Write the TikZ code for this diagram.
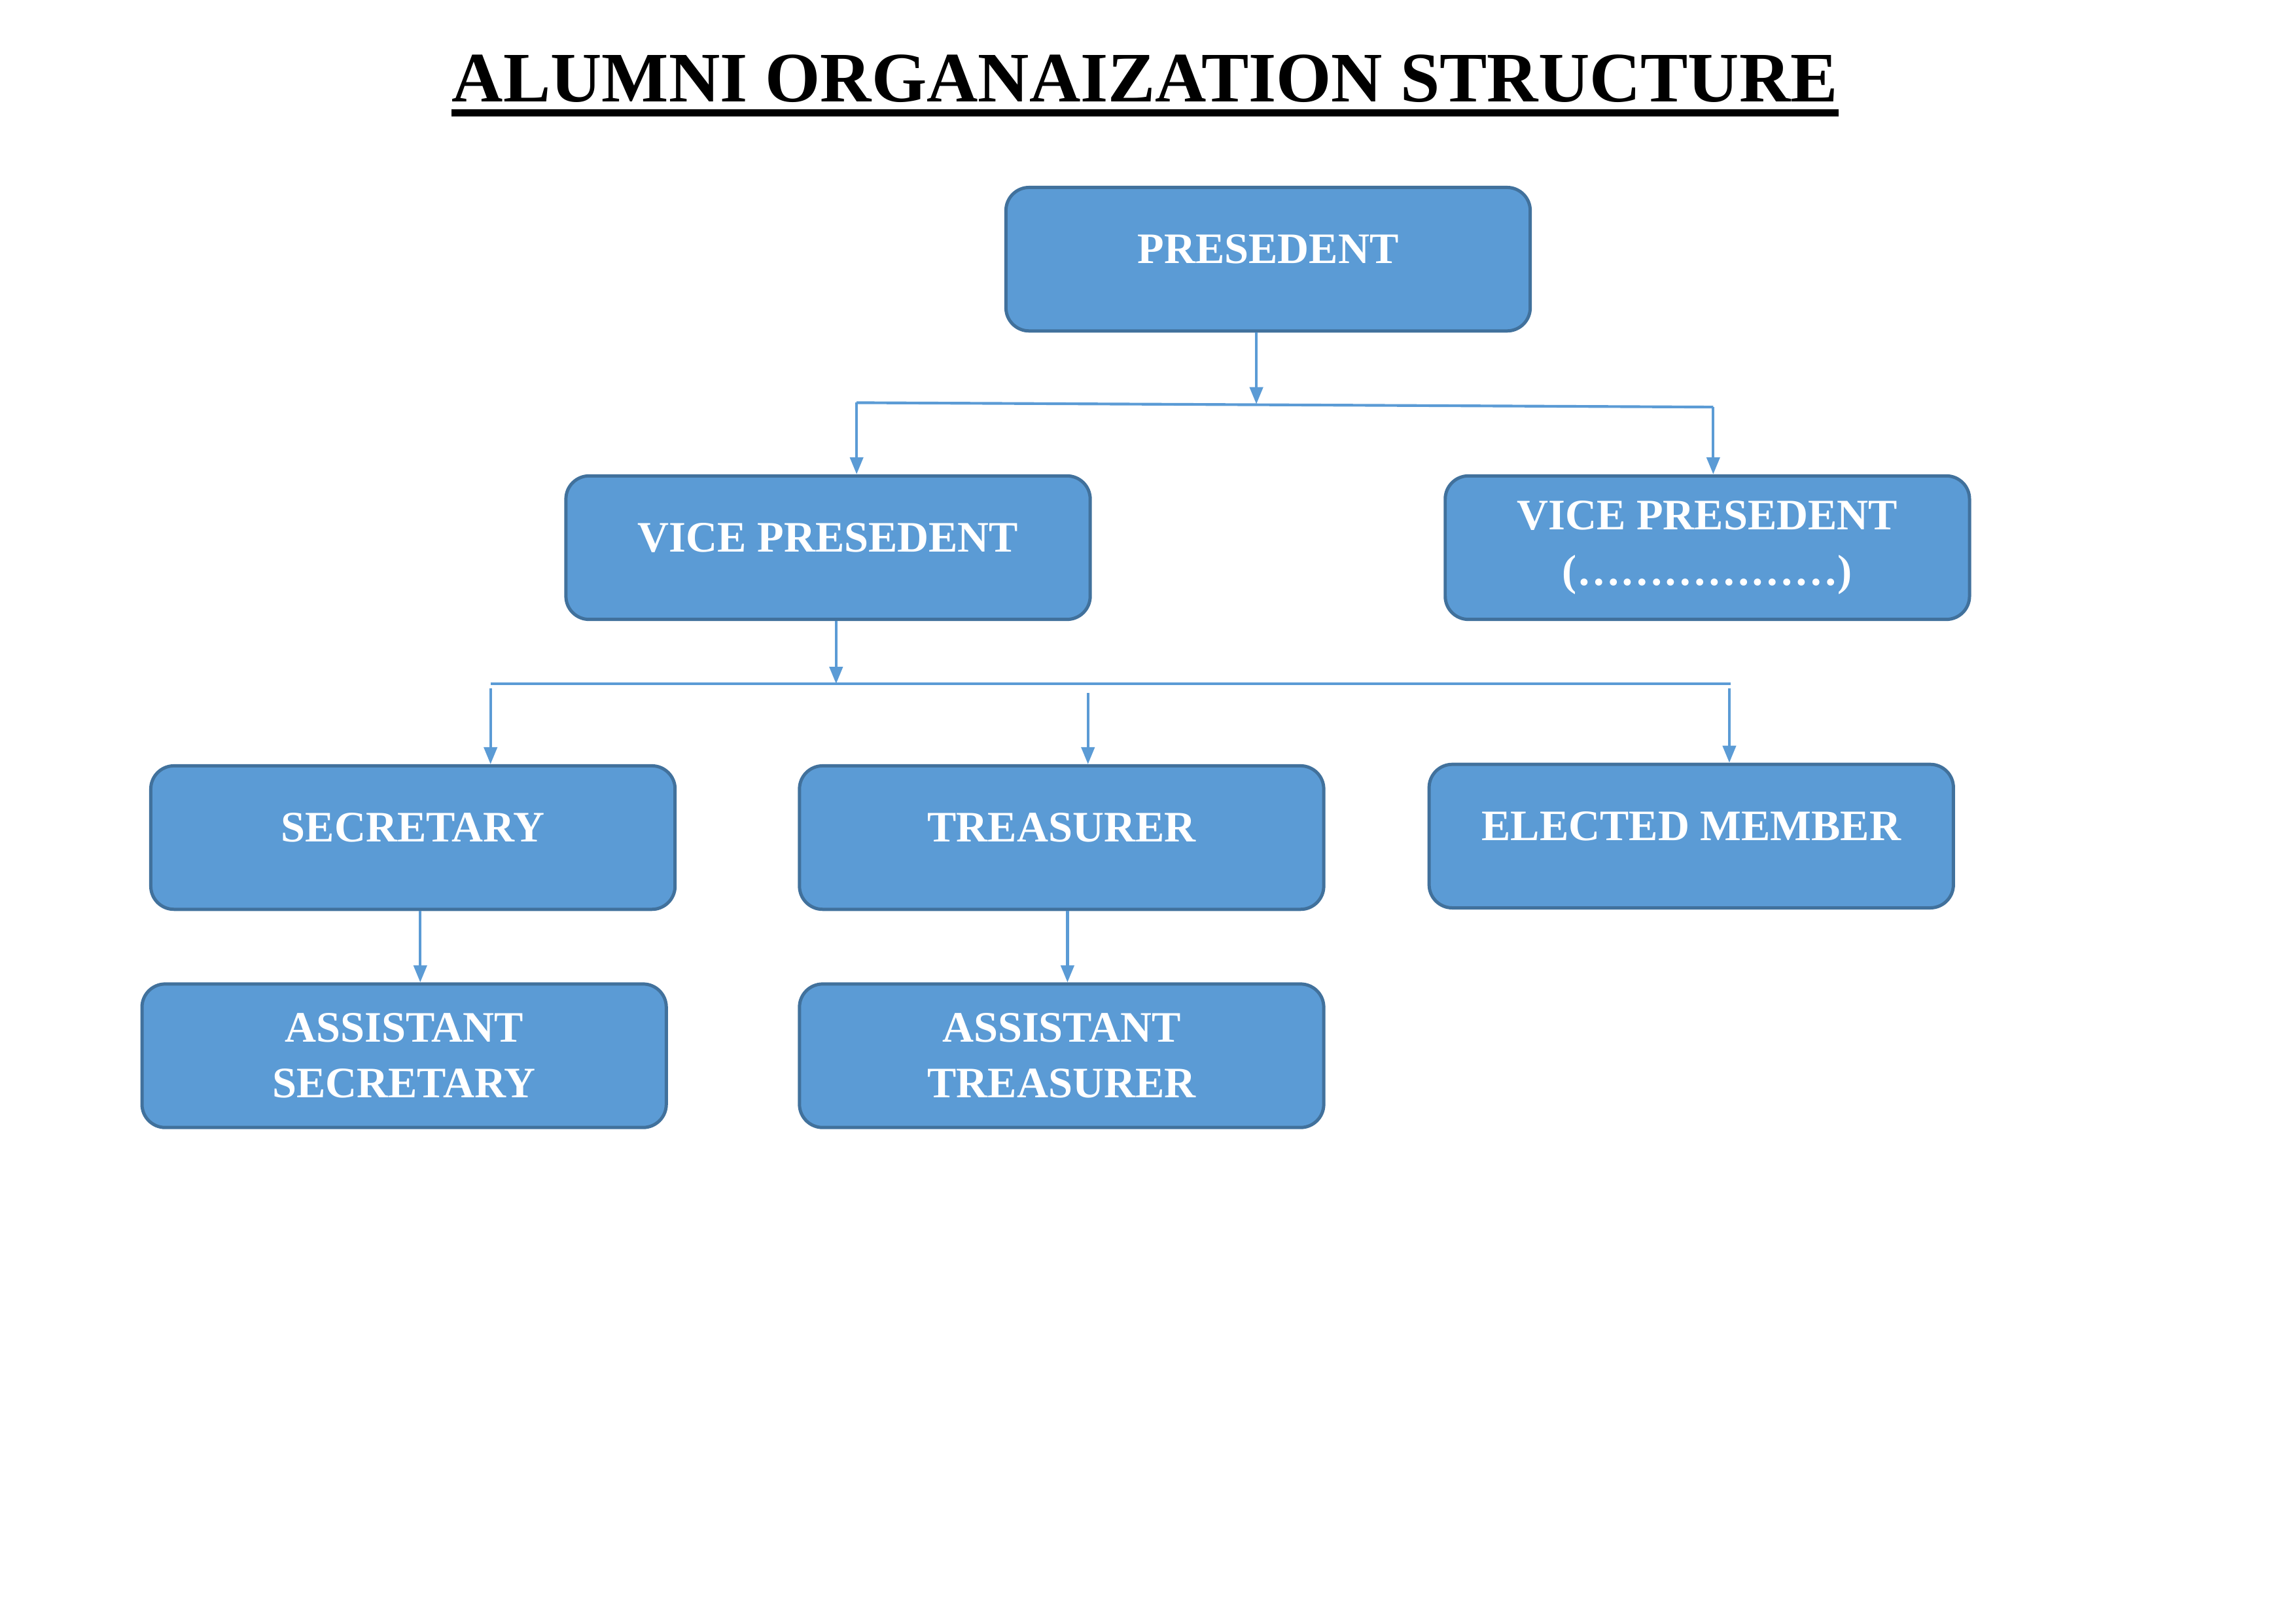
\documentclass[tikz,border=0pt]{standalone}
\usepackage{fontspec}
\setmainfont{Liberation Serif}
\usetikzlibrary{arrows.meta, positioning, calc}
\definecolor{BoxBlue}{RGB}{91, 155, 213}
\definecolor{EdgeBlue}{RGB}{65, 113, 156}
\newcommand{\blankdots}{\symbol{"2026}\symbol{"2026}\symbol{"2026}\symbol{"2026}\symbol{"2026}\symbol{"2026}}

\begin{document}
\begin{tikzpicture}[
    x=0.018941cm, y=-0.018941cm,
    post/.style={rectangle, draw=EdgeBlue, fill=BoxBlue, text=white, rounded corners=0.3cm, minimum width=6.78cm, minimum height=1.856cm, inner sep=0pt, line width=1.2pt, font=\fontsize{16}{20.5}\selectfont\bfseries},
    onepost/.style={post, text height=0.38cm, text depth=0.27cm},
    twopost/.style={post, align=center},
    link/.style={draw=BoxBlue, line width=1pt, -{Triangle[length=0.22cm, width=0.17cm]}},
    bus/.style={draw=BoxBlue, line width=1pt}
]
\useasboundingbox (0,0) rectangle (1568,1109);

% title
\node[font=\fontsize{26.1}{30}\selectfont\bfseries, inner sep=0pt, anchor=base] (title) at (782,69.3) {ALUMNI ORGANAIZATION STRUCTURE};
\draw[line width=2.6pt] (title.west |- 0,77) -- (title.east |- 0,77);

% posts
\node[onepost] (pres) at (866,177) {PRESEDENT};
\node[onepost] (vpa) at (565.5,374) {VICE PRESEDENT};
\node[twopost] (vpb) at (1166,374) {VICE PRESEDENT\\(\blankdots)};
\node[onepost] (sec) at (282,572) {SECRETARY};
\node[onepost] (tre) at (725,572) {TREASURER};
\node[onepost] (elm) at (1155,571) {ELECTED MEMBER};
\node[twopost] (asec) at (276,721) {ASSISTANT\\SECRETARY};
\node[twopost] (atre) at (725,721) {ASSISTANT\\TREASURER};

% president to vice presidents
\coordinate (topbus) at (858,276);
\coordinate (topL) at (585,275);
\coordinate (topR) at (1170,278);
\draw[link] (pres.south -| topbus) -- (topbus);
\draw[bus] (topL) -- (topR);
\draw[link] (topL) -- (topL |- vpa.north);
\draw[link] (topR) -- (topR |- vpb.north);

% vice president to officers
\coordinate (midbus) at (571,467);
\coordinate (midL) at (335,467);
\coordinate (midR) at (1182,467);
\coordinate (dropS) at (335,470);
\coordinate (dropT) at (743,473);
\coordinate (dropE) at (1181,470);
\draw[link] (vpa.south -| midbus) -- (midbus);
\draw[bus] (midL) -- (midR);
\draw[link] (dropS) -- (dropS |- sec.north);
\draw[link] (dropT) -- (dropT |- tre.north);
\draw[link] (dropE) -- (dropE |- elm.north);

% assistants
\coordinate (secdrop) at (287,0);
\coordinate (tredrop) at (729,0);
\draw[link] (sec.south -| secdrop) -- (asec.north -| secdrop);
\draw[link] (tre.south -| tredrop) -- (atre.north -| tredrop);
\end{tikzpicture}
\end{document}
